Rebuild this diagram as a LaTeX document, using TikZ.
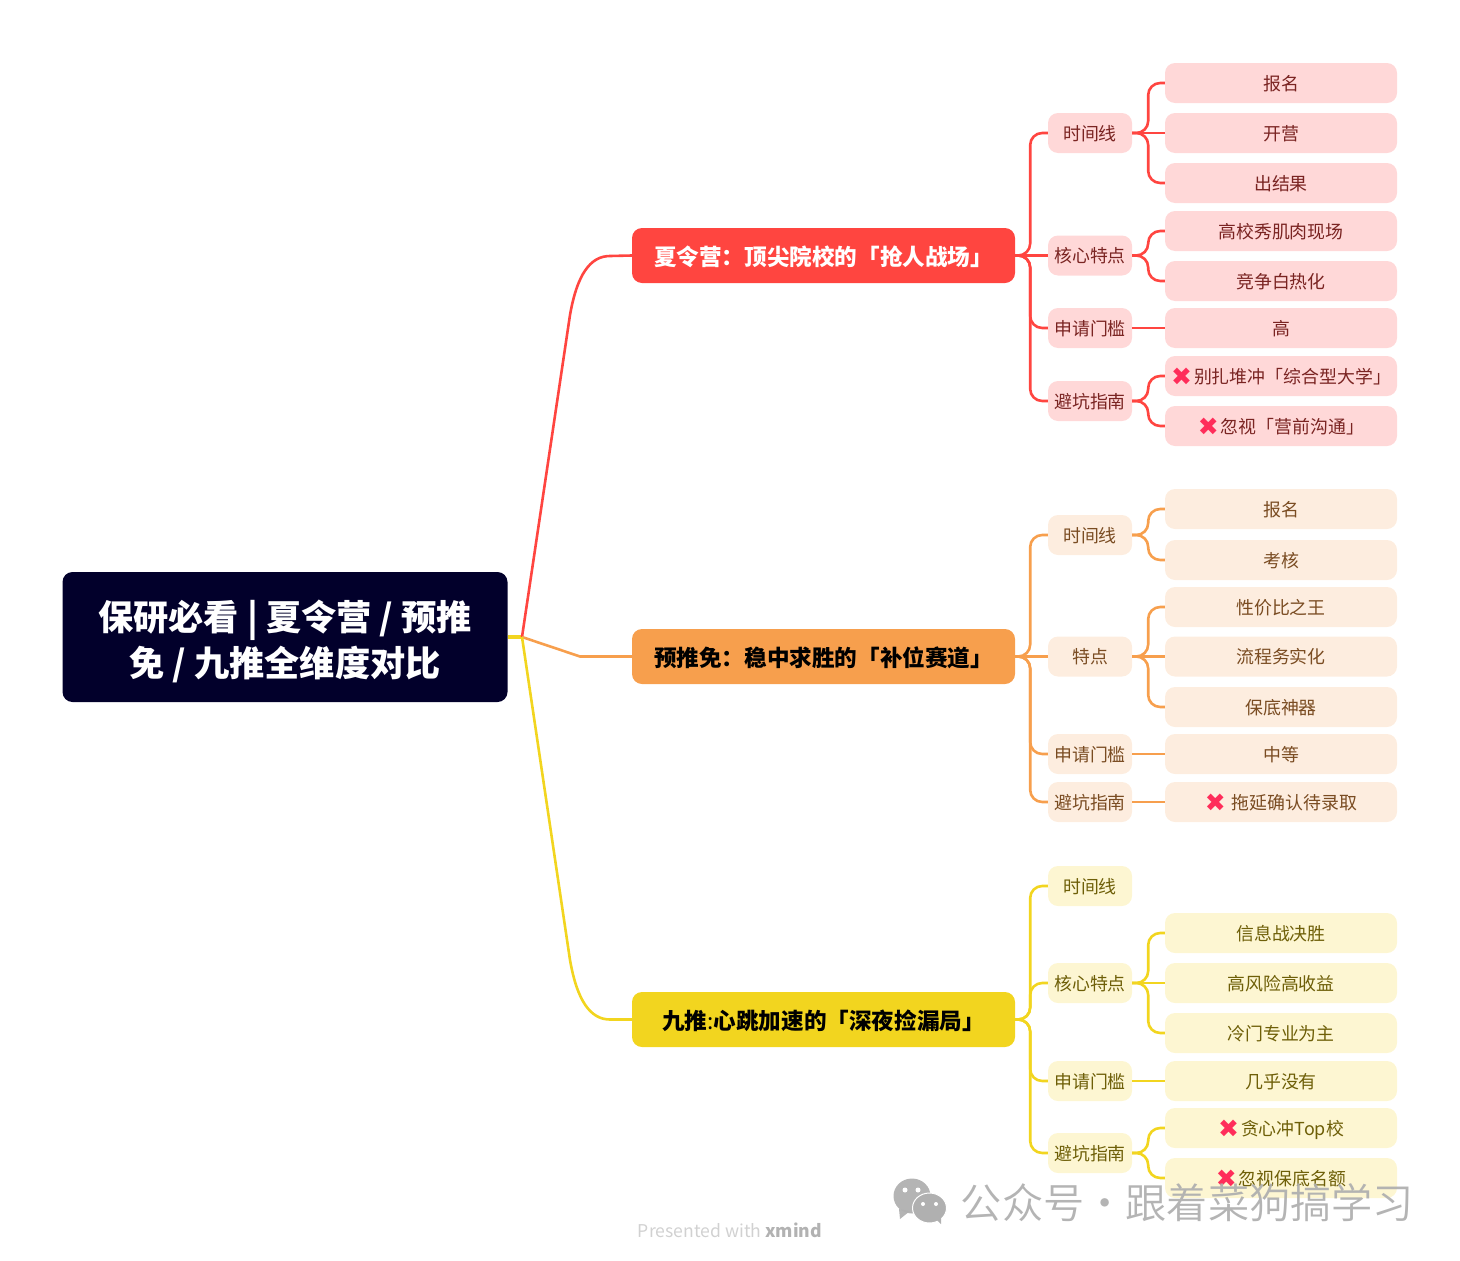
\documentclass[tikz,border=0pt]{standalone}
\usepackage{fontspec}
\setmainfont{Noto Sans CJK SC}
\newfontfamily\symfont{DejaVu Sans}
\newfontfamily\lightfont{Noto Sans CJK SC DemiLight}
\usetikzlibrary{positioning}
\definecolor{mapnavy}{HTML}{02002B}
\definecolor{mapred}{HTML}{FF4540}
\definecolor{maporange}{HTML}{F79F4D}
\definecolor{mapyellow}{HTML}{F2D51F}
\definecolor{lightred}{HTML}{FFD8D8}
\definecolor{lightorange}{HTML}{FDEDDF}
\definecolor{lightyellow}{HTML}{FDF6D2}
\definecolor{textred}{HTML}{7A2422}
\definecolor{textorange}{HTML}{7A4C22}
\definecolor{textyellow}{HTML}{6E5F08}
\definecolor{crossred}{HTML}{FF2D5A}
\definecolor{markgray}{HTML}{B0B0B0}
\newcommand{\crossmark}{{\symfont\textcolor{crossred}{\fontsize{25}{25}\selectfont\raisebox{-2pt}{✖}}}\hspace{2pt}}
\tikzset{
  rootbox/.style={fill=mapnavy, text=white, rounded corners=10, minimum width=445, minimum height=130, align=center, font=\fontsize{35.2}{46}\selectfont\bfseries},
  mainbox/.style={rounded corners=10, minimum width=383, minimum height=55, text height=22, text depth=2.8, font=\fontsize{22.6}{28}\selectfont\bfseries},
  subbox/.style={rounded corners=10, minimum width=84, minimum height=40, text height=16, text depth=2, font=\fontsize{17.9}{22}\selectfont},
  leafbox/.style={rounded corners=10, minimum width=232, minimum height=40, text height=16, text depth=2, font=\fontsize{17.9}{22}\selectfont},
  redsub/.style={subbox, fill=lightred, text=textred},
  redleaf/.style={leafbox, fill=lightred, text=textred},
  orangesub/.style={subbox, fill=lightorange, text=textorange},
  orangeleaf/.style={leafbox, fill=lightorange, text=textorange},
  yellowsub/.style={subbox, fill=lightyellow, text=textyellow},
  yellowleaf/.style={leafbox, fill=lightyellow, text=textyellow},
  branch/.style={line width=2.6, rounded corners=12}
}
\begin{document}
\begin{tikzpicture}[x=1pt, y=-1pt, inner sep=0pt]
    \useasboundingbox (0,0) rectangle (1460,1261);

    % Root
    \node[rootbox] (root) at (285,637) {\rule{0pt}{40pt}保研必看 | 夏令营 / 预推\\免 / 九推全维度对比};
    \coordinate (hub) at (522,637);

    % Main topics
    \node[mainbox, fill=mapred, text=white] (camp) at (823.5,255.5) {夏令营：顶尖院校的「抢人战场」};
    \node[mainbox, fill=maporange, text=black] (pre) at (823.5,656.5) {预推免：稳中求胜的「补位赛道」};
    \node[mainbox, fill=mapyellow, text=black] (nine) at (823.5,1019.5) {九推{\mdseries:}心跳加速的「深夜捡漏局」};

    \draw[line width=3.5, mapyellow] (root.east) -- (hub);
    \draw[line width=2.6, mapred] (hub) -- (570,315) .. controls (577,275) and (590,256) .. (610,256) -- (camp.west);
    \draw[line width=2.6, maporange] (hub) -- (580,656.5) -- (pre.west);
    \draw[line width=2.6, mapyellow] (hub) -- (570,960) .. controls (577,1000) and (590,1019.5) .. (610,1019.5) -- (nine.west);

    % Summer camp
    \node[redsub] (camptime) at (1090,133) {时间线};
    \node[redsub] (campcore) at (1090,255.5) {核心特点};
    \node[redsub] (campbar) at (1090,328) {申请门槛};
    \node[redsub] (camptrap) at (1090,401) {避坑指南};
    \node[redleaf] (campa) at (1281,83) {报名};
    \node[redleaf] (campb) at (1281,133) {开营};
    \node[redleaf] (campc) at (1281,183) {出结果};
    \node[redleaf] (campd) at (1281,231) {高校秀肌肉现场};
    \node[redleaf] (campe) at (1281,281) {竞争白热化};
    \node[redleaf] (campf) at (1281,328) {高};
    \node[redleaf] (campg) at (1281,376) {\crossmark 别扎堆冲「综合型大学」};
    \node[redleaf] (camph) at (1281,426) {\crossmark 忽视「营前沟通」};
    \foreach \subname in {camptime,campbar,camptrap}
        \draw[branch, mapred] (camp.east) -- ++(15,0) |- (\subname.west);
    \draw[branch, mapred] (camp) -- (campcore);
    \foreach \leafname in {campa,campc}
        \draw[branch, mapred] (camptime.east) -- ++(16,0) |- (\leafname.west);
    \draw[branch, mapred] (camptime) -- (campb);
    \foreach \leafname in {campd,campe}
        \draw[branch, mapred] (campcore.east) -- ++(16,0) |- (\leafname.west);
    \draw[branch, mapred] (campbar) -- (campf);
    \foreach \leafname in {campg,camph}
        \draw[branch, mapred] (camptrap.east) -- ++(16,0) |- (\leafname.west);

    % Pre-admission
    \node[orangesub] (pretime) at (1090,535) {时间线};
    \node[orangesub] (precore) at (1090,656.5) {特点};
    \node[orangesub] (prebar) at (1090,754) {申请门槛};
    \node[orangesub] (pretrap) at (1090,802) {避坑指南};
    \node[orangeleaf] (prea) at (1281,509) {报名};
    \node[orangeleaf] (preb) at (1281,560) {考核};
    \node[orangeleaf] (prec) at (1281,607) {性价比之王};
    \node[orangeleaf] (pred) at (1281,656.5) {流程务实化};
    \node[orangeleaf] (pree) at (1281,707) {保底神器};
    \node[orangeleaf] (pref) at (1281,754) {中等};
    \node[orangeleaf] (preg) at (1281,802) {\crossmark\ 拖延确认待录取};
    \foreach \subname in {pretime,prebar,pretrap}
        \draw[branch, maporange] (pre.east) -- ++(15,0) |- (\subname.west);
    \draw[branch, maporange] (pre) -- (precore);
    \foreach \leafname in {prea,preb}
        \draw[branch, maporange] (pretime.east) -- ++(16,0) |- (\leafname.west);
    \foreach \leafname in {prec,pree}
        \draw[branch, maporange] (precore.east) -- ++(16,0) |- (\leafname.west);
    \draw[branch, maporange] (precore) -- (pred);
    \draw[branch, maporange] (prebar) -- (pref);
    \draw[branch, maporange] (pretrap) -- (preg);

    % Ninth-month round
    \node[yellowsub] (ninetime) at (1090,886) {时间线};
    \node[yellowsub] (ninecore) at (1090,983) {核心特点};
    \node[yellowsub] (ninebar) at (1090,1081) {申请门槛};
    \node[yellowsub] (ninetrap) at (1090,1153) {避坑指南};
    \node[yellowleaf] (ninea) at (1281,933) {信息战决胜};
    \node[yellowleaf] (nineb) at (1281,983) {高风险高收益};
    \node[yellowleaf] (ninec) at (1281,1033) {冷门专业为主};
    \node[yellowleaf] (nined) at (1281,1081) {几乎没有};
    \node[yellowleaf] (ninee) at (1281,1128) {\crossmark 贪心冲Top校};
    \node[yellowleaf] (ninef) at (1281,1178) {\crossmark 忽视保底名额};
    \foreach \subname in {ninetime,ninecore,ninebar,ninetrap}
        \draw[branch, mapyellow] (nine.east) -- ++(15,0) |- (\subname.west);
    \foreach \leafname in {ninea,ninec}
        \draw[branch, mapyellow] (ninecore.east) -- ++(16,0) |- (\leafname.west);
    \draw[branch, mapyellow] (ninecore) -- (nineb);
    \draw[branch, mapyellow] (ninebar) -- (nined);
    \foreach \leafname in {ninee,ninef}
        \draw[branch, mapyellow] (ninetrap.east) -- ++(16,0) |- (\leafname.west);

    % Footer and watermark
    \node[text=black!18, font=\fontsize{17.6}{22}\selectfont] (credit) at (730,1230) {Presented with \textcolor{black!30}{\bfseries xmind}};
    \fill[markgray, opacity=0.95] (912,1196) ellipse (18.5 and 17.5);
    \fill[markgray, opacity=0.95] (899,1209) -- (900,1219) -- (910,1211) -- cycle;
    \fill[markgray, draw=white, line width=1] (929.5,1208) ellipse (17 and 15);
    \fill[markgray] (935,1218) -- (941,1224) -- (941,1214) -- cycle;
    \fill[white] (905,1190) circle (2.5) (918,1190) circle (2.5) (923,1204) circle (2) (936,1204) circle (2);
    \node[text=markgray, opacity=0.95, font=\lightfont\fontsize{41.2}{44}\selectfont] (mark) at (1187.5,1203) {\spaceskip=0.1pt 公众号 · 跟着菜狗搞学习};
\end{tikzpicture}
\end{document}
